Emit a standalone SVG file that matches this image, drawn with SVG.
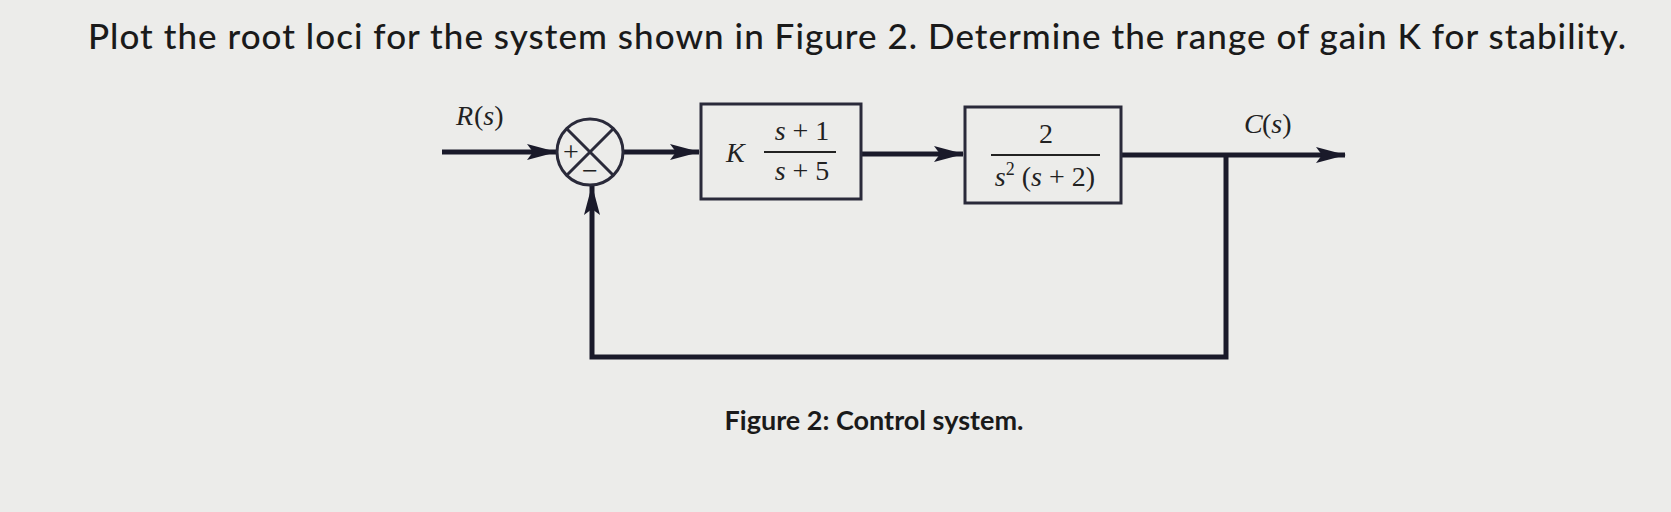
<svg xmlns="http://www.w3.org/2000/svg" width="1671" height="512" viewBox="0 0 1671 512">
<style>
.t{font-family:Lato,"Open Sans","Liberation Sans",sans-serif;fill:#1a1a1a}
.m{font-family:"Liberation Serif",serif;fill:#222;font-size:28px}
.i{font-style:italic}
.l{stroke:#1a1a2a;stroke-width:5;fill:none}
.b{stroke:#2a2a3a;stroke-width:3;fill:none}
</style>
<defs>
<marker id="ah" markerWidth="30" markerHeight="16" refX="29" refY="8" orient="auto" markerUnits="userSpaceOnUse"><path d="M0,0L30,8L0,16L6,8z" fill="#1a1a2a"/></marker></defs>
<rect width="1671" height="512" fill="#ececea"/>
<text class="t" x="88" y="49" font-size="35" font-weight="500" textLength="1538">Plot the root loci for the system shown in Figure 2. Determine the range of gain K for stability.</text>
<g id="connectors">
<path class="l" d="M442,152H556" marker-end="url(#ah)"/>
<path class="l" d="M624,152H699" marker-end="url(#ah)"/>
<path class="l" d="M861,154H963" marker-end="url(#ah)"/>
<path class="l" d="M1121,155H1345" marker-end="url(#ah)"/>
<path class="l" d="M1226,155V357H592V186" marker-end="url(#ah)"/>
</g>
<g id="sum"><circle class="b" cx="590" cy="152" r="33" fill="none"/>
<path class="b" d="M567,129L613,175M613,129L567,175"/>
<text class="m" x="571" y="161" font-size="20" text-anchor="middle">+</text>
<text class="m" x="590" y="180" font-size="20" text-anchor="middle">−</text></g>
<g id="R"><text class="m i" x="456" y="125">R</text><text class="m" x="474" y="125">(<tspan class="i">s</tspan>)</text></g>
<g id="C"><text class="m i" x="1244" y="133">C</text><text class="m" x="1262" y="133">(<tspan class="i">s</tspan>)</text></g>
<g id="block1"><rect class="b" x="701" y="104" width="160" height="95" fill="none"/>
<text class="m i" x="726" y="162">K</text>
<text class="m" x="802" y="140" text-anchor="middle"><tspan class="i">s</tspan> + 1</text>
<path d="M764,152H836" stroke="#222" stroke-width="2"/>
<text class="m" x="802" y="180" text-anchor="middle"><tspan class="i">s</tspan> + 5</text></g>
<g id="block2"><rect class="b" x="965" y="107" width="156" height="96" fill="none"/>
<text class="m" x="1046" y="143" text-anchor="middle">2</text>
<path d="M991,155H1100" stroke="#222" stroke-width="2"/>
<text class="m" x="1045" y="186" text-anchor="middle"><tspan class="i">s</tspan><tspan font-size="18" dy="-11">2</tspan><tspan dy="11"> (</tspan><tspan class="i">s</tspan> + 2)</text></g>
<text class="t" x="874" y="430" font-size="27" font-weight="bold" text-anchor="middle">Figure 2: Control system.</text>
</svg>
